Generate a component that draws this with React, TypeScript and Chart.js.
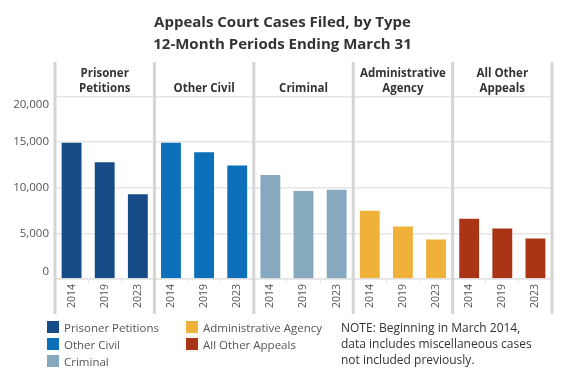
import React, { useEffect, useRef } from "react";
import { Chart, registerables } from "chart.js";

Chart.register(...registerables);

const titleLines = ["Appeals Court Cases Filed, by Type", "12-Month Periods Ending March 31"];
const panels = [["Prisoner", "Petitions"], "Other Civil", "Criminal", ["Administrative", "Agency"], ["All Other", "Appeals"]];
const years = ["2014", "2019", "2023"];
const seriesNames = ["Prisoner Petitions", "Other Civil", "Criminal", "Administrative Agency", "All Other Appeals"];
const seriesColors = ["#154b86", "#0b6fba", "#87a9c0", "#efb13a", "#a93416"];
const prisonerPetitions = [15050, 12900, 9400];
const otherCivil = [15050, 14000, 12550];
const criminal = [11500, 9750, 9900];
const administrativeAgency = [7600, 5850, 4450];
const allOtherAppeals = [6700, 5650, 4550];
const yTicks = [0, 5000, 10000, 15000, 20000];
const noteLines = ["NOTE: Beginning in March 2014,", "data includes miscellaneous cases", "not included previously."];

const seriesValues = [prisonerPetitions, otherCivil, criminal, administrativeAgency, allOtherAppeals];
const FONT = "'Open Sans', 'Noto Sans', sans-serif";

export default function App() {
  const ref = useRef<HTMLCanvasElement | null>(null);

  useEffect(() => {
    document.body.style.margin = "0";
    const labels: string[] = [];
    panels.forEach(() => years.forEach((y) => labels.push(y)));
    const datasets = seriesValues.map((vals, si) => {
      const data: (number | null)[] = labels.map(() => null);
      vals.forEach((v, i) => (data[si * years.length + i] = v));
      return {
        label: seriesNames[si],
        data,
        backgroundColor: seriesColors[si],
        borderColor: "rgba(255,255,255,0.35)",
        borderWidth: 1,
        barPercentage: 0.66,
        categoryPercentage: 1,
      };
    });

    const overlay = {
      id: "overlay",
      afterDraw(chart: any) {
        const { ctx, chartArea } = chart;
        const x = chart.scales.x;
        const y = chart.scales.y;
        ctx.save();
        const n = panels.length;
        const w = (chartArea.right - chartArea.left) / n;
        ctx.strokeStyle = "#d5d5d5";
        ctx.lineWidth = 3;
        for (let i = 0; i <= n; i++) {
          const px = chartArea.left + i * w;
          ctx.beginPath();
          ctx.moveTo(px, 62);
          ctx.lineTo(px, x.bottom);
          ctx.stroke();
        }
        ctx.fillStyle = "#555";
        ctx.font = "11.5px " + FONT;
        ctx.textAlign = "right";
        ctx.textBaseline = "middle";
        yTicks.forEach((v) => {
          let py = y.getPixelForValue(v);
          py = Math.max(chartArea.top + 8, Math.min(chartArea.bottom - 7, py));
          ctx.fillText(v.toLocaleString("en-US"), chartArea.left - 6, py);
        });
        ctx.restore();
      },
    };

    const chart = new Chart(ref.current!, {
      type: "bar",
      data: { labels, datasets },
      plugins: [overlay],
      options: {
        animation: false,
        responsive: false,
        maintainAspectRatio: false,
        layout: { padding: { left: 13, right: 13, top: 0, bottom: 67 } },
        plugins: {
          legend: { display: false },
          tooltip: { enabled: false },
          title: {
            display: true,
            text: titleLines,
            color: "#333",
            font: { family: FONT, size: 15, weight: "bold", lineHeight: 1.5 },
            padding: { top: 11, bottom: 0 },
          },
        },
        scales: {
          x: {
            stacked: true,
            offset: true,
            grid: { display: true, drawOnChartArea: false, offset: true, tickLength: 4, color: "#e6e6e6" },
            border: { display: true, color: "#e3e3e3", width: 1.5 },
            ticks: {
              autoSkip: false,
              minRotation: 90,
              maxRotation: 90,
              padding: 1,
              color: "#555",
              font: { family: FONT, size: 10.5 },
            },
            afterFit(scale: any) {
              scale.height = 35;
            },
          },
          x2: {
            type: "category",
            position: "top",
            labels: panels as any,
            offset: true,
            grid: { display: false, drawTicks: false },
            border: { display: false },
            ticks: {
              padding: 1,
              color: "#333",
              font: { family: FONT, size: 11.5, weight: "bold", lineHeight: 1.25 },
            },
            afterFit(scale: any) {
              scale.height = 40.5;
            },
          },
          y: {
            stacked: true,
            min: 0,
            max: 20000,
            ticks: { display: false, stepSize: 5000 },
            grid: { color: "#e6e6e6", lineWidth: 1.5, drawTicks: false },
            border: { display: false },
            afterFit(scale: any) {
              scale.width = 42;
            },
          },
        },
      } as any,
    });
    return () => chart.destroy();
  }, []);

  const legendCols = [[0, 1, 2], [3, 4]];
  const colX = [47, 186];
  return (
    <div style={{ position: "relative", width: 565, height: 381, fontFamily: FONT }}>
      <canvas ref={ref} width={565} height={381} style={{ display: "block" }} />
      {legendCols.map((col, ci) =>
        col.map((si, ri) => (
          <div
            key={si}
            style={{
              position: "absolute",
              left: colX[ci],
              top: 320 + ri * 17,
              height: 14,
              display: "flex",
              alignItems: "center",
              fontSize: 11.5,
              color: "#555",
              whiteSpace: "nowrap",
            }}
          >
            <span style={{ display: "inline-block", width: 12, height: 12, background: seriesColors[si], marginRight: 5 }} />
            {seriesNames[si]}
          </div>
        ))
      )}
      <div style={{ position: "absolute", left: 341, top: 320, fontSize: 12, lineHeight: "16px", color: "#333", whiteSpace: "nowrap" }}>
        {noteLines.map((l, i) => (
          <div key={i}>{l}</div>
        ))}
      </div>
    </div>
  );
}
